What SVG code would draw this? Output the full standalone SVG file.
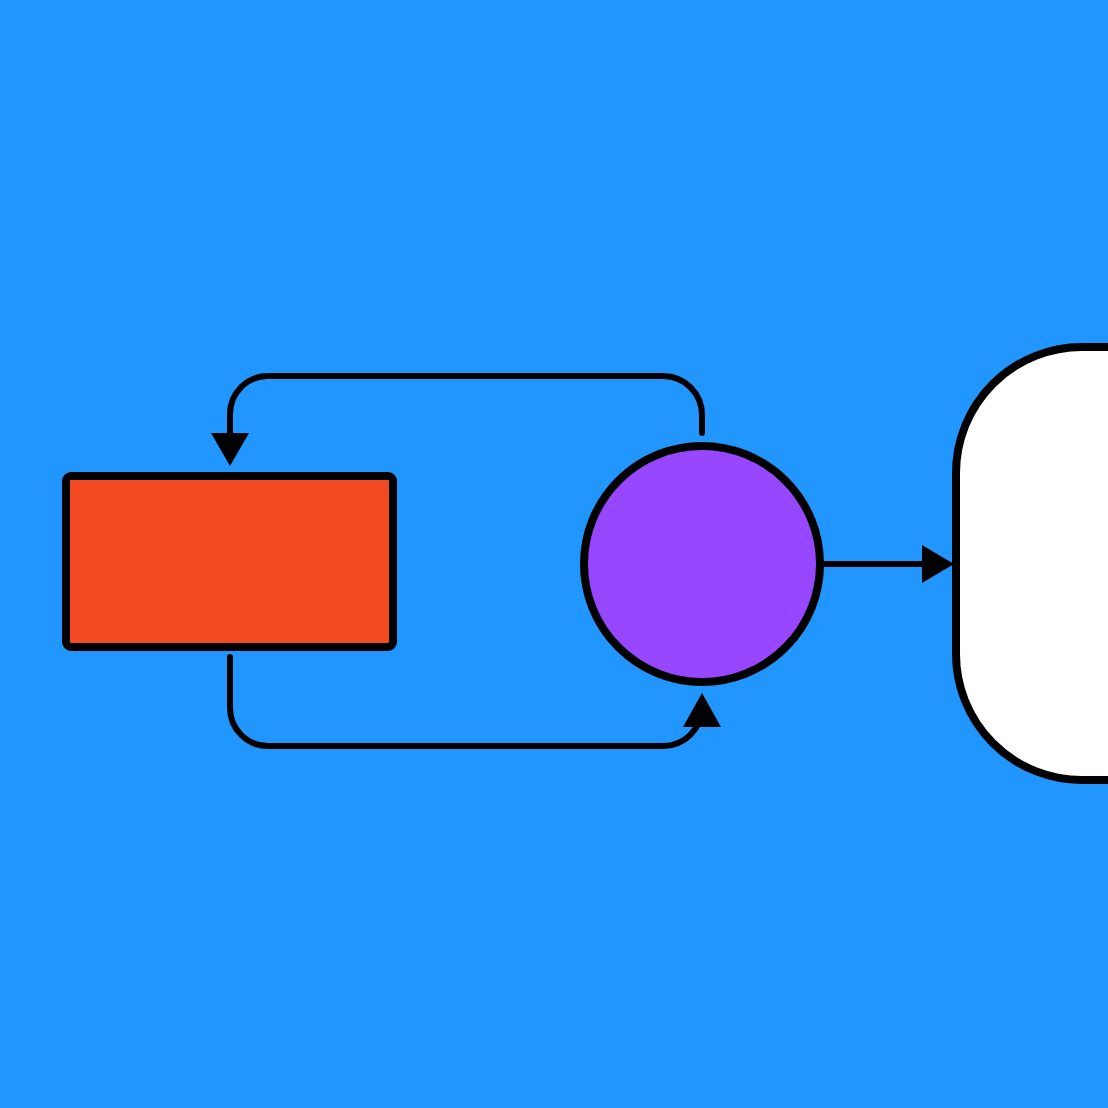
<svg xmlns="http://www.w3.org/2000/svg" width="1108" height="1108" viewBox="0 0 1108 1108">
  <style>
    .shape { stroke: #000; stroke-width: 8; }
    .conn { fill: none; stroke: #000; stroke-width: 6; stroke-linecap: round; }
    .head { fill: #000; }
  </style>
  <rect x="0" y="0" width="1108" height="1108" fill="#2196FF"/>
  <g id="node-rect">
    <rect class="shape" x="66" y="476" width="327" height="171" rx="5" fill="#F24B22"/>
  </g>
  <g id="node-circle">
    <circle class="shape" cx="702" cy="564" r="118" fill="#9747FF"/>
  </g>
  <g id="node-terminal">
    <rect class="shape" x="956" y="347" width="300" height="433" rx="126" fill="#FFFFFF"/>
  </g>
  <g id="connectors">
    <path class="conn" d="M702 433 V415 A39 39 0 0 0 663 376 H268 A38 38 0 0 0 230 414 V436"/>
    <polygon class="head" points="211,433 249,433 230,466"/>
    <path class="conn" d="M230 657 V708 A38 38 0 0 0 268 746 H663 A39 39 0 0 0 702 707"/>
    <polygon class="head" points="683,727 721,727 702,693"/>
    <path class="conn" d="M824 564 H925"/>
    <polygon class="head" points="922,545 922,583 954,564"/>
  </g>
</svg>
